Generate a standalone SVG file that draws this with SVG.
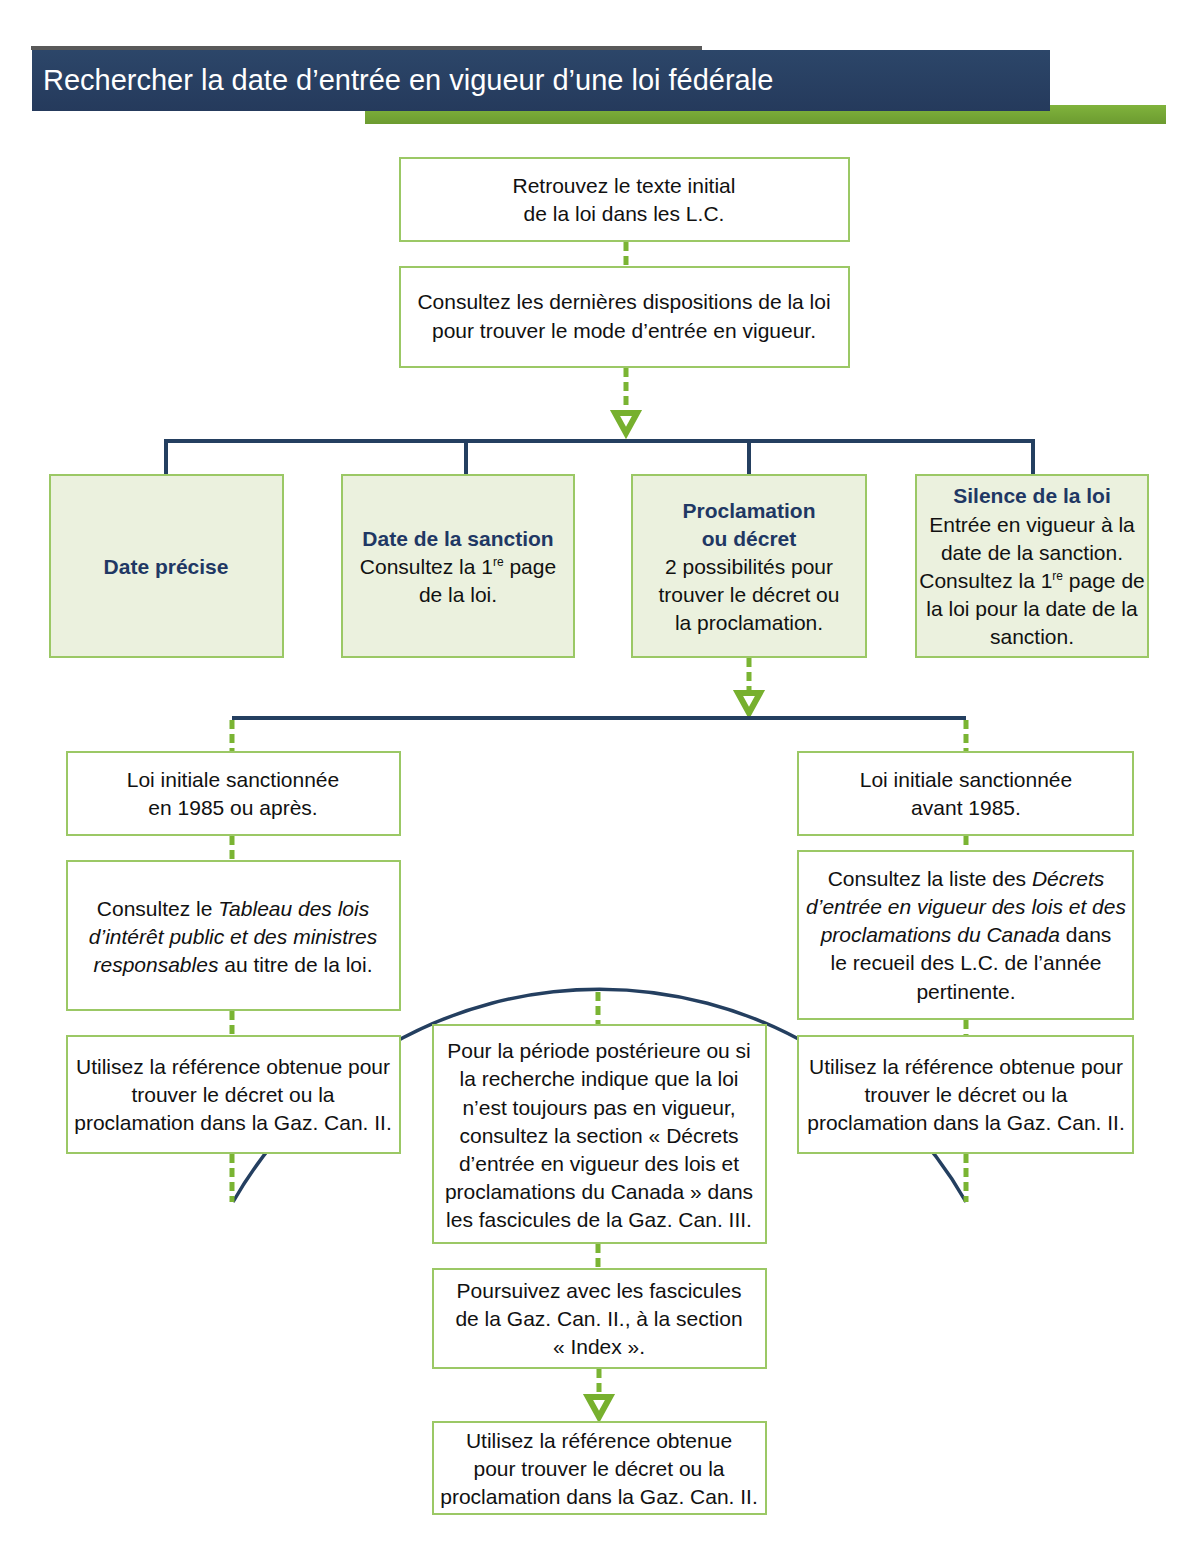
<svg xmlns="http://www.w3.org/2000/svg" xmlns:xlink="http://www.w3.org/1999/xlink" width="1200" height="1553" viewBox="0 0 1200 1553">
<defs>
<linearGradient id="navyG" x1="0" y1="0" x2="0" y2="1">
<stop offset="0" stop-color="#2c4669"/>
<stop offset="1" stop-color="#253a5c"/>
</linearGradient>
<linearGradient id="greenG" x1="0" y1="0" x2="0" y2="1">
<stop offset="0" stop-color="#80b33c"/>
<stop offset="1" stop-color="#6c9b30"/>
</linearGradient>
<g id="arrowHead">
<polygon points="-11,-23 11,-23 0,-3" fill="#ffffff" stroke="#77b02e" stroke-width="6" stroke-linejoin="miter"/>
</g>
<style>
.box{fill:#ffffff;stroke:#9bc865;stroke-width:2}
.gbox{fill:#ebf1de;stroke:#9bc865;stroke-width:2}
.dash{fill:none;stroke:#7ab433;stroke-width:5;stroke-dasharray:9,5}
.navy{fill:none;stroke:#243f60;stroke-width:4}
.arc{fill:none;stroke:#243f60;stroke-width:3.5}
text{font-family:"Liberation Sans",Arial,sans-serif;font-size:21px;fill:#111111;text-anchor:middle}
.h{font-weight:bold;fill:#1f3864}
.i{font-style:italic}
.sup{font-size:12px}
.title{font-size:29px;fill:#ffffff;text-anchor:start}
</style>
</defs>
<rect width="1200" height="1553" fill="#ffffff"/>
<g id="header">
<rect x="31" y="46" width="671" height="4" fill="#595959"/>
<rect x="365" y="105" width="801" height="19" fill="url(#greenG)"/>
<rect x="32" y="50" width="1018" height="61" fill="url(#navyG)"/>
<text class="title" x="43" y="90">Rechercher la date d’entrée en vigueur d’une loi fédérale</text>
</g>
<g id="connectors">
<line class="dash" x1="626" y1="242" x2="626" y2="267"/>
<line class="dash" x1="626" y1="368" x2="626" y2="405"/>
<use xlink:href="#arrowHead" x="626" y="436"/>
<polyline class="navy" points="166,475 166,441 1033,441 1033,475"/>
<line class="navy" x1="466" y1="441" x2="466" y2="475"/>
<line class="navy" x1="749" y1="441" x2="749" y2="475"/>
<line class="dash" x1="749" y1="658" x2="749" y2="690"/>
<use xlink:href="#arrowHead" x="749" y="716"/>
<line class="navy" x1="232" y1="718" x2="966" y2="718"/>
<line class="dash" x1="232" y1="720" x2="232" y2="752"/>
<line class="dash" x1="966" y1="720" x2="966" y2="752"/>
<line class="dash" x1="232" y1="836" x2="232" y2="861"/>
<line class="dash" x1="232" y1="1011" x2="232" y2="1036"/>
<line class="dash" x1="966" y1="836" x2="966" y2="851"/>
<line class="dash" x1="966" y1="1020" x2="966" y2="1036"/>
<path class="arc" d="M233,1202 A422,422 0 0 1 966,1202"/>
<line class="dash" x1="232" y1="1154" x2="232" y2="1202"/>
<line class="dash" x1="966" y1="1154" x2="966" y2="1202"/>
<line class="dash" x1="598" y1="992" x2="598" y2="1025"/>
<line class="dash" x1="598" y1="1244" x2="598" y2="1269"/>
<line class="dash" x1="599" y1="1369" x2="599" y2="1392"/>
<use xlink:href="#arrowHead" x="599" y="1420"/>
</g>
<g id="n1">
<rect class="box" x="400" y="158" width="449" height="83"/>
<text x="624" y="193">Retrouvez le texte initial</text>
<text x="624" y="221">de la loi dans les L.C.</text>
</g>
<g id="n2">
<rect class="box" x="400" y="267" width="449" height="100"/>
<text x="624" y="309">Consultez les dernières dispositions de la loi</text>
<text x="624" y="338">pour trouver le mode d’entrée en vigueur.</text>
</g>
<g id="nA">
<rect class="gbox" x="50" y="475" width="233" height="182"/>
<text class="h" x="166" y="574">Date précise</text>
</g>
<g id="nB">
<rect class="gbox" x="342" y="475" width="232" height="182"/>
<text class="h" x="458" y="546">Date de la sanction</text>
<text x="458" y="574">Consultez la 1<tspan class="sup" dy="-8">re</tspan><tspan dy="8"> page</tspan></text>
<text x="458" y="602">de la loi.</text>
</g>
<g id="nC">
<rect class="gbox" x="632" y="475" width="234" height="182"/>
<text class="h" x="749" y="518">Proclamation</text>
<text class="h" x="749" y="546">ou décret</text>
<text x="749" y="574">2 possibilités pour</text>
<text x="749" y="602">trouver le décret ou</text>
<text x="749" y="630">la proclamation.</text>
</g>
<g id="nD">
<rect class="gbox" x="916" y="475" width="232" height="182"/>
<text class="h" x="1032" y="503">Silence de la loi</text>
<text x="1032" y="532">Entrée en vigueur à la</text>
<text x="1032" y="560">date de la sanction.</text>
<text x="1032" y="588">Consultez la 1<tspan class="sup" dy="-8">re</tspan><tspan dy="8"> page de</tspan></text>
<text x="1032" y="616">la loi pour la date de la</text>
<text x="1032" y="644">sanction.</text>
</g>
<g id="nL1">
<rect class="box" x="67" y="752" width="333" height="83"/>
<text x="233" y="787">Loi initiale sanctionnée</text>
<text x="233" y="815">en 1985 ou après.</text>
</g>
<g id="nL2">
<rect class="box" x="67" y="861" width="333" height="149"/>
<text x="233" y="916">Consultez le <tspan class="i">Tableau des lois</tspan></text>
<text x="233" y="944" class="i">d’intérêt public et des ministres</text>
<text x="233" y="972"><tspan class="i">responsables</tspan> au titre de la loi.</text>
</g>
<g id="nL3">
<rect class="box" x="67" y="1036" width="333" height="117"/>
<text x="233" y="1074">Utilisez la référence obtenue pour</text>
<text x="233" y="1102">trouver le décret ou la</text>
<text x="233" y="1130">proclamation dans la Gaz. Can. II.</text>
</g>
<g id="nR1">
<rect class="box" x="798" y="752" width="335" height="83"/>
<text x="966" y="787">Loi initiale sanctionnée</text>
<text x="966" y="815">avant 1985.</text>
</g>
<g id="nR2">
<rect class="box" x="798" y="851" width="335" height="168"/>
<text x="966" y="886">Consultez la liste des <tspan class="i">Décrets</tspan></text>
<text x="966" y="914" class="i">d’entrée en vigueur des lois et des</text>
<text x="966" y="942"><tspan class="i">proclamations du Canada</tspan> dans</text>
<text x="966" y="970">le recueil des L.C. de l’année</text>
<text x="966" y="999">pertinente.</text>
</g>
<g id="nR3">
<rect class="box" x="798" y="1036" width="335" height="117"/>
<text x="966" y="1074">Utilisez la référence obtenue pour</text>
<text x="966" y="1102">trouver le décret ou la</text>
<text x="966" y="1130">proclamation dans la Gaz. Can. II.</text>
</g>
<g id="nC1">
<rect class="box" x="433" y="1025" width="333" height="218"/>
<text x="599" y="1058">Pour la période postérieure ou si</text>
<text x="599" y="1086">la recherche indique que la loi</text>
<text x="599" y="1115">n’est toujours pas en vigueur,</text>
<text x="599" y="1143">consultez la section « Décrets</text>
<text x="599" y="1171">d’entrée en vigueur des lois et</text>
<text x="599" y="1199">proclamations du Canada » dans</text>
<text x="599" y="1227">les fascicules de la Gaz. Can. III.</text>
</g>
<g id="nC2">
<rect class="box" x="433" y="1269" width="333" height="99"/>
<text x="599" y="1298">Poursuivez avec les fascicules</text>
<text x="599" y="1326">de la Gaz. Can. II., à la section</text>
<text x="599" y="1354">« Index ».</text>
</g>
<g id="nC3">
<rect class="box" x="433" y="1422" width="333" height="92"/>
<text x="599" y="1448">Utilisez la référence obtenue</text>
<text x="599" y="1476">pour trouver le décret ou la</text>
<text x="599" y="1504">proclamation dans la Gaz. Can. II.</text>
</g>
</svg>
